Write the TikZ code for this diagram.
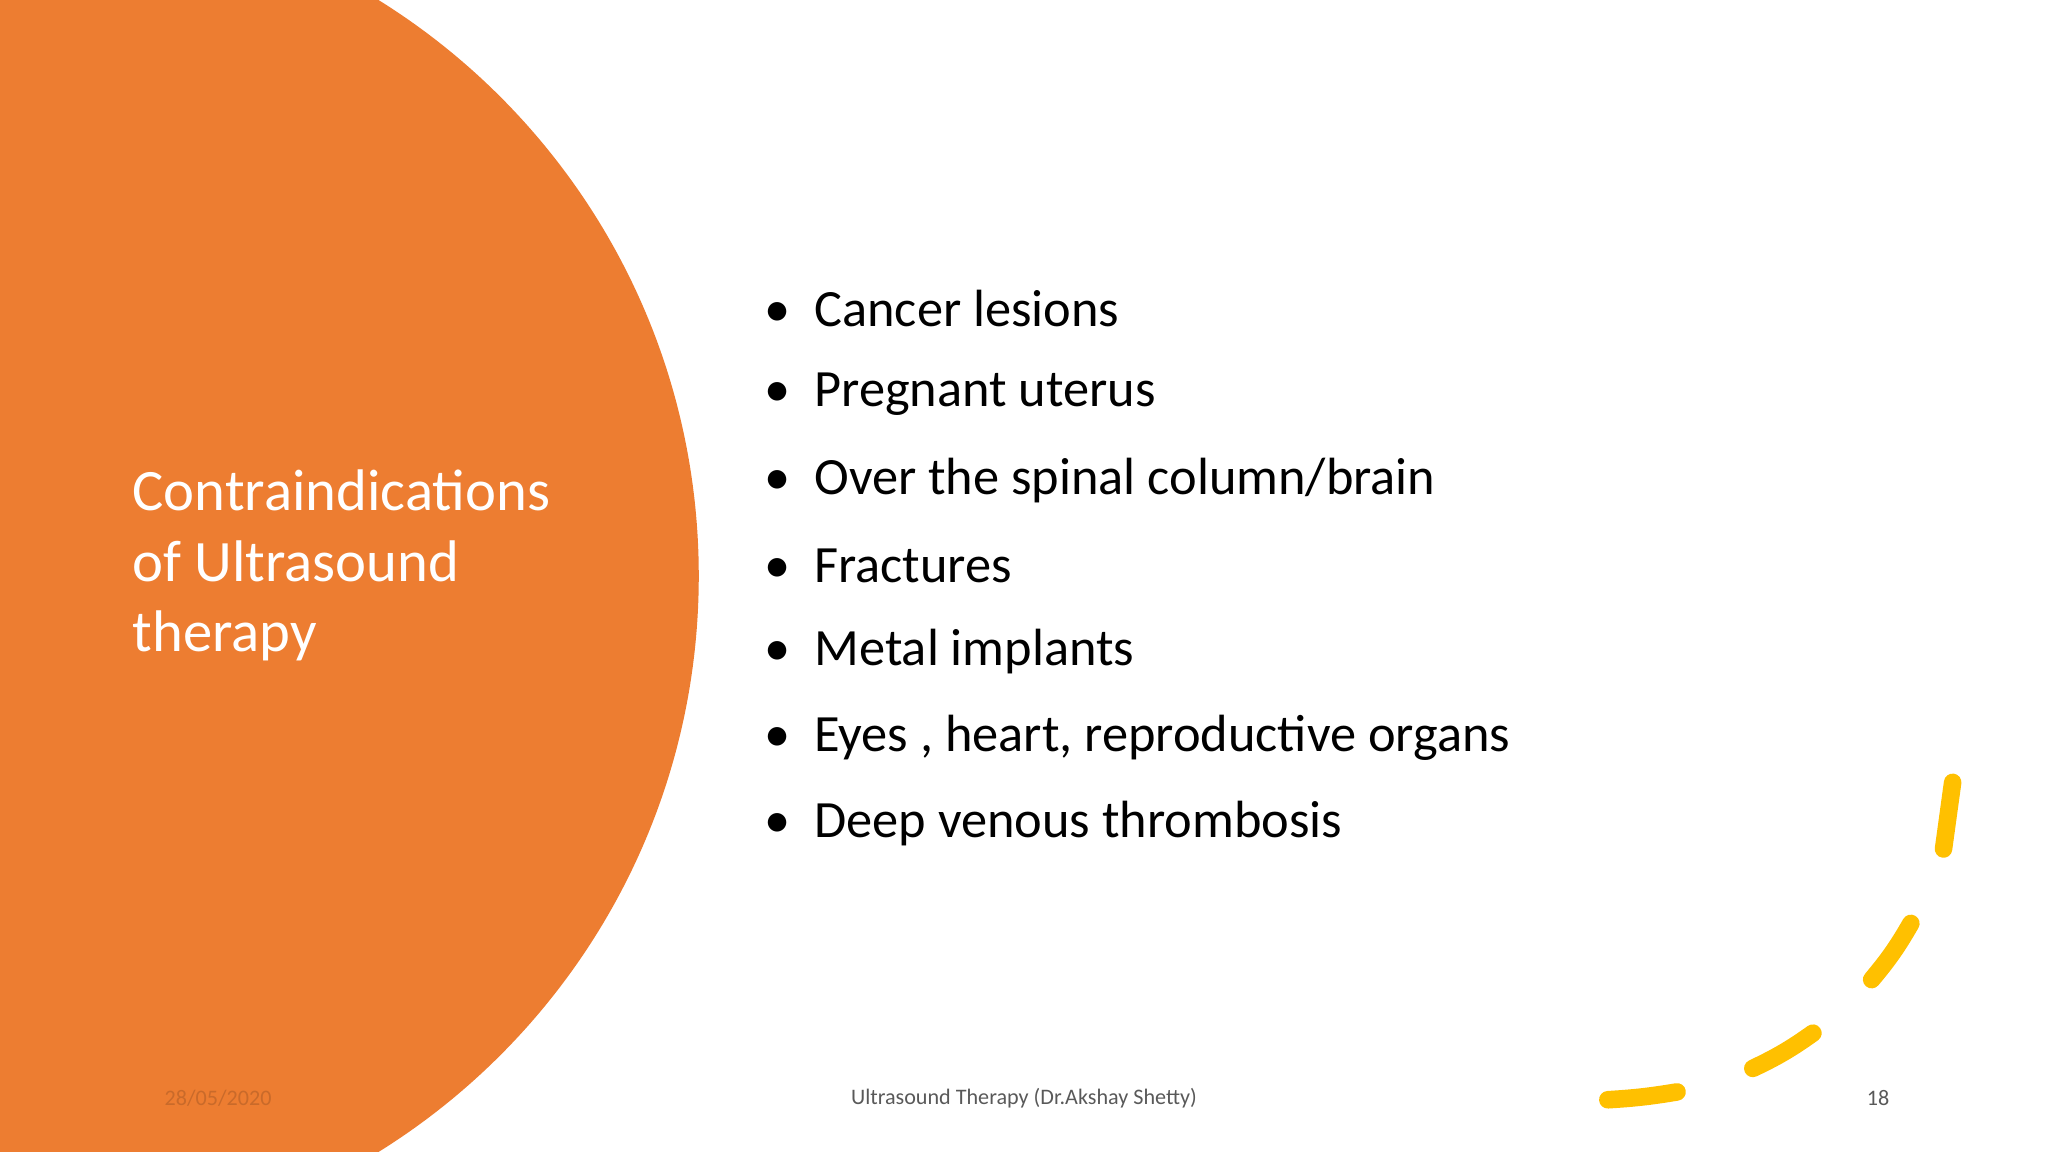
\documentclass[tikz,border=0pt]{standalone}
\usepackage{fontspec}
\setmainfont{Carlito}
\definecolor{orng}{HTML}{ED7D31}
\definecolor{ylw}{HTML}{FFC000}
\definecolor{gry}{HTML}{595959}
\begin{document}
\begin{tikzpicture}[x=0.013061cm,y=-0.013061cm,
  bul/.style={anchor=west,font=\fontsize{14.9pt}{18pt}\selectfont,inner sep=0},
  dsh/.style={ylw,line width=5pt,line cap=round}]
\useasboundingbox (0,0) rectangle (1568,882);
\begin{scope}
\clip (0,0) rectangle (1568,882);
\fill[orng] (16,441) circle[radius=519];
\end{scope}
\node[anchor=west,align=left,text=white,font=\fontsize{16.7pt}{20pt}\selectfont,inner sep=0] (title) at (101,433) {Contraindications\\of Ultrasound\\therapy};
\foreach \t [count=\i] in {Cancer lesions,Pregnant uterus,Over the spinal column/brain,Fractures,Metal implants,{Eyes , heart, reproductive organs},Deep venous thrombosis}{
  \node[bul] (b\i) at (585,{236+65.8*(\i-1)}) {\textbullet\hspace{0.45em}\t};
}
\node[text=orng!85!black,font=\fontsize{6.3pt}{7pt}\selectfont] (date) at (167,841) {28/05/2020};
\node[text=gry,font=\fontsize{6.3pt}{7pt}\selectfont] (foot) at (784,841) {Ultrasound Therapy (Dr.Akshay Shetty)};
\node[text=gry,font=\fontsize{6.3pt}{7pt}\selectfont] (num) at (1438,841) {18};
\draw[dsh] (1495,599) -- (1488,650);
\draw[dsh] (1463,707) to[bend left=5] (1433,750);
\draw[dsh] (1388,791) to[bend left=5] (1342,818);
\draw[dsh] (1284,836) to[bend left=3] (1231,842);
\end{tikzpicture}
\end{document}
